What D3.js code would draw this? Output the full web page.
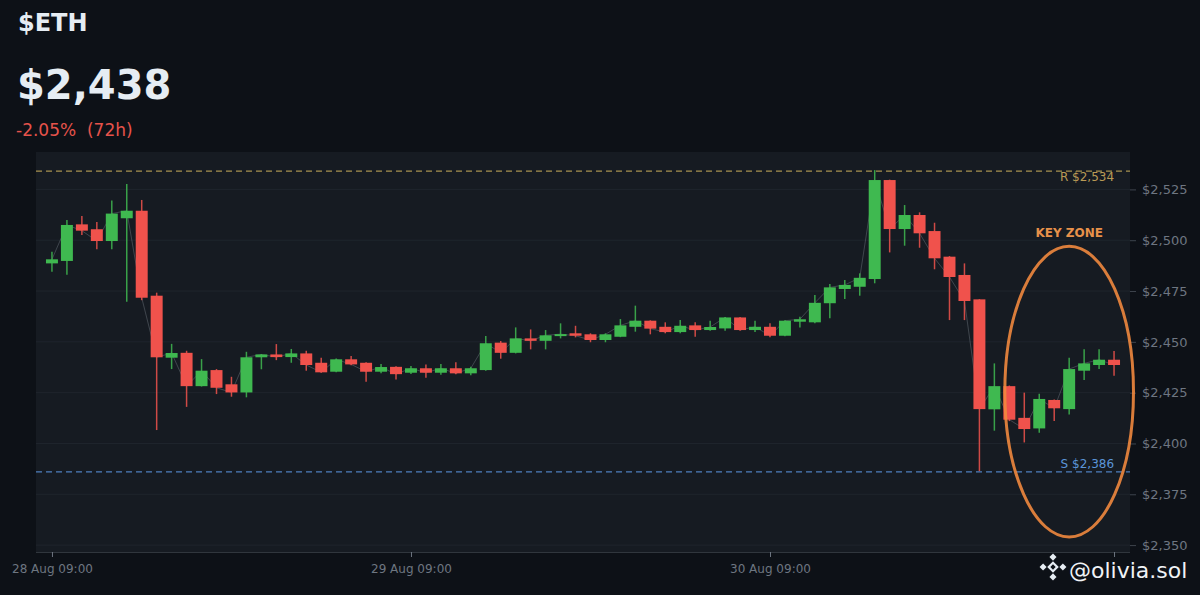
<!DOCTYPE html>
<html lang="en">
<head>
<meta charset="UTF-8">
<title>$ETH 72h</title>
<style>
    body {
        margin: 0;
        background: #0d1117;
        overflow: hidden;
    }
    svg text {
        font-family: "DejaVu Sans", sans-serif;
    }
</style>
</head>
<body>
<svg id="chart" width="1200" height="595"></svg>

<script src="https://d3js.org/d3.v7.min.js"></script>
<script>
    // Hourly candles, 28 Aug 09:00 -> 31 Aug 08:00
    const opens = [
        2488.6, 2489.8, 2507.8, 2505.4, 2499.6, 2510.8, 2514.5, 2472.7, 2442.2, 2444.6, 2428.2, 2436.1,
        2429.1, 2425.1, 2442.4, 2443.8, 2442.5, 2444.3, 2439.7, 2435.3, 2441.4, 2439.7, 2435.3, 2437.7,
        2434.8, 2437.0, 2434.8, 2437.0, 2434.5, 2436.1, 2449.6, 2444.6, 2451.7, 2450.5, 2452.9, 2454.2,
        2453.7, 2450.9, 2452.5, 2457.4, 2460.4, 2457.4, 2454.8, 2458.1, 2455.8, 2456.6, 2462.0, 2455.8,
        2457.4, 2453.0, 2459.9, 2459.6, 2469.0, 2476.0, 2477.1, 2480.9, 2529.6, 2505.5, 2512.4, 2504.5,
        2491.9, 2482.9, 2470.9, 2416.8, 2428.2, 2412.6, 2407.4, 2421.4, 2416.9, 2435.8, 2438.6, 2441.2
    ];
    const highs = [
        2494.3, 2510.0, 2511.9, 2509.0, 2519.5, 2527.7, 2519.8, 2474.2, 2449.0, 2445.6, 2441.5, 2436.6,
        2432.8, 2445.1, 2444.0, 2448.9, 2446.5, 2445.6, 2442.2, 2441.8, 2443.0, 2440.0, 2439.1, 2438.0,
        2438.1, 2438.9, 2439.1, 2440.0, 2437.7, 2452.9, 2450.4, 2457.1, 2456.1, 2455.8, 2459.1, 2457.9,
        2454.2, 2454.2, 2461.2, 2467.8, 2460.6, 2459.6, 2460.7, 2459.6, 2460.4, 2462.2, 2462.2, 2460.4,
        2459.1, 2460.6, 2462.4, 2473.0, 2478.4, 2480.4, 2483.7, 2534.5, 2529.8, 2517.3, 2513.7, 2508.6,
        2492.2, 2488.6, 2471.0, 2439.4, 2428.5, 2425.0, 2424.5, 2421.6, 2442.2, 2446.3, 2446.3, 2445.5
    ];
    const lows = [
        2484.5, 2483.0, 2502.6, 2495.5, 2495.5, 2469.7, 2470.5, 2406.6, 2436.6, 2418.0, 2428.0, 2424.3,
        2423.0, 2422.7, 2436.5, 2441.0, 2439.7, 2435.8, 2434.8, 2435.0, 2438.5, 2430.4, 2434.5, 2431.5,
        2434.2, 2432.3, 2433.8, 2434.1, 2433.5, 2435.8, 2441.7, 2444.3, 2446.3, 2446.3, 2451.7, 2452.2,
        2449.8, 2449.8, 2452.3, 2455.0, 2453.7, 2454.2, 2454.2, 2452.5, 2455.5, 2455.5, 2455.5, 2454.8,
        2452.2, 2452.8, 2457.0, 2459.1, 2461.6, 2471.1, 2472.7, 2478.8, 2494.0, 2497.3, 2496.3, 2485.7,
        2460.7, 2460.7, 2386.4, 2406.3, 2411.0, 2400.5, 2405.3, 2411.0, 2414.3, 2431.2, 2436.6, 2433.3
    ];
    const closes = [
        2490.6, 2507.5, 2504.7, 2499.6, 2513.1, 2514.5, 2471.7, 2442.4, 2444.5, 2428.2, 2435.8, 2427.4,
        2425.1, 2442.4, 2443.8, 2442.5, 2444.3, 2438.6, 2435.0, 2441.4, 2438.9, 2435.3, 2437.6, 2434.1,
        2437.0, 2434.8, 2437.0, 2434.5, 2437.0, 2449.3, 2444.6, 2451.7, 2450.5, 2453.2, 2453.8, 2453.0,
        2450.9, 2453.7, 2458.1, 2460.4, 2456.5, 2454.8, 2457.9, 2455.8, 2457.3, 2462.0, 2455.8, 2457.4,
        2453.0, 2460.4, 2461.1, 2469.2, 2476.8, 2478.0, 2481.5, 2529.6, 2505.5, 2512.4, 2503.4, 2491.1,
        2481.9, 2470.1, 2416.9, 2428.2, 2411.7, 2407.1, 2421.9, 2417.3, 2436.6, 2439.4, 2441.2, 2438.6
    ];

    const xTickIndex = [0, 24, 48, 71];
    const xTickLabels = ["28 Aug 09:00", "29 Aug 09:00", "30 Aug 09:00", ""];
    const yTicks = [2350, 2375, 2400, 2425, 2450, 2475, 2500, 2525];
    const resistance = 2534;
    const support = 2386;
    const keyZoneIdx = [63.7, 72.3];
    const keyZonePrice = [2354, 2497];

    const svg = d3.select("#chart");
    const plot = { left: 36, right: 1130, top: 152, bottom: 552 };

    const start = new Date(2025, 7, 28, 9);
    const times = opens.map((d, i) => d3.timeHour.offset(start, i));

    const x = d3.scaleTime()
        .domain([d3.timeMinute.offset(times[0], -64), d3.timeMinute.offset(times[times.length - 1], 64)])
        .range([plot.left, plot.right]);
    const step = x(times[1]) - x(times[0]);
    const xi = i => x(d3.timeMinute.offset(start, i * 60));

    const y = d3.scaleLinear()
        .domain([2346.6, 2543.4])
        .range([plot.bottom, plot.top]);

    // plot background
    svg.append("rect")
        .attr("x", plot.left).attr("y", plot.top)
        .attr("width", plot.right - plot.left).attr("height", plot.bottom - plot.top)
        .attr("fill", "#161b22");

    // grid
    svg.append("g")
        .selectAll("line")
        .data(yTicks)
        .join("line")
        .attr("x1", plot.left).attr("x2", plot.right)
        .attr("y1", d => y(d)).attr("y2", d => y(d))
        .attr("stroke", "#1f252d")
        .attr("stroke-width", 1);

    // y axis (right)
    const yAxis = svg.append("g")
        .attr("transform", `translate(${plot.right},0)`)
        .call(d3.axisRight(y).tickValues(yTicks).tickSize(6).tickPadding(6)
            .tickFormat(d => "$" + d3.format(",")(d)));
    yAxis.select(".domain").remove();
    yAxis.selectAll("line").attr("stroke", "#3d444d");
    yAxis.selectAll("text").attr("fill", "#6e7681").attr("font-size", 13)
        .attr("font-family", "DejaVu Sans, sans-serif");

    // x axis
    const xAxis = svg.append("g")
        .attr("transform", `translate(0,${plot.bottom})`)
        .call(d3.axisBottom(x).tickValues(xTickIndex.map(i => times[i])).tickSize(5).tickPadding(7)
            .tickFormat((d, i) => xTickLabels[i]));
    xAxis.select(".domain").attr("stroke", "#30363d")
        .attr("d", `M${plot.left},0.5H${plot.right}`);
    xAxis.selectAll("line").attr("stroke", "#6e7681");
    xAxis.selectAll("text").attr("fill", "#6e7681").attr("font-size", 12)
        .attr("font-family", "DejaVu Sans, sans-serif");

    // resistance / support
    const levels = [
        { v: resistance, label: "R $2,534", line: "#a8924f", text: "#b99a55", dy: 10 },
        { v: support, label: "S $2,386", line: "#4f80bf", text: "#5b95d8", dy: -4 }
    ];
    levels.forEach(l => {
        svg.append("line")
            .attr("x1", plot.left).attr("x2", plot.right)
            .attr("y1", y(l.v)).attr("y2", y(l.v))
            .attr("stroke", l.line)
            .attr("stroke-width", 1.3)
            .attr("stroke-dasharray", "6,4");
        svg.append("text")
            .attr("x", xi(71)).attr("y", y(l.v) + l.dy)
            .attr("text-anchor", "end")
            .attr("font-size", 12)
            .attr("fill", l.text)
            .text(l.label);
    });

    // close line
    svg.append("path")
        .datum(closes)
        .attr("d", d3.line().x((d, i) => xi(i)).y(d => y(d)))
        .attr("fill", "none")
        .attr("stroke", "#8b949e")
        .attr("stroke-opacity", 0.35)
        .attr("stroke-width", 1);

    // candles
    const up = "#3fb950", down = "#f0524c";
    const bodyW = step * 0.8;
    const candles = svg.append("g")
        .selectAll("g")
        .data(opens.map((o, i) => ({ i, o, h: highs[i], l: lows[i], c: closes[i] })))
        .join("g");

    candles.append("line")
        .attr("x1", d => xi(d.i)).attr("x2", d => xi(d.i))
        .attr("y1", d => y(d.h)).attr("y2", d => y(d.l))
        .attr("stroke", d => d.c >= d.o ? up : down)
        .attr("stroke-opacity", 0.85)
        .attr("stroke-width", 1.5);

    candles.append("rect")
        .attr("x", d => xi(d.i) - bodyW / 2)
        .attr("y", d => y(Math.max(d.o, d.c)))
        .attr("width", bodyW)
        .attr("height", d => Math.max(2, Math.abs(y(d.o) - y(d.c))))
        .attr("fill", d => d.c >= d.o ? up : down);

    // key zone
    const kx0 = xi(keyZoneIdx[0]), kx1 = xi(keyZoneIdx[1]);
    const ky0 = y(keyZonePrice[1]), ky1 = y(keyZonePrice[0]);
    svg.append("ellipse")
        .attr("cx", (kx0 + kx1) / 2).attr("cy", (ky0 + ky1) / 2)
        .attr("rx", (kx1 - kx0) / 2).attr("ry", (ky1 - ky0) / 2)
        .attr("fill", "none")
        .attr("stroke", "#f0883e")
        .attr("stroke-opacity", 0.9)
        .attr("stroke-width", 3);
    svg.append("text")
        .attr("x", (kx0 + kx1) / 2).attr("y", ky0 - 9)
        .attr("text-anchor", "middle")
        .attr("font-size", 12)
        .attr("font-weight", "bold")
        .attr("fill", "#e8914a")
        .text("KEY ZONE");

    // header
    svg.append("text")
        .attr("x", 18).attr("y", 31)
        .attr("font-size", 24).attr("font-weight", "bold")
        .attr("fill", "#e6edf3")
        .text("$ETH");
    svg.append("text")
        .attr("x", 17).attr("y", 99)
        .attr("font-size", 40).attr("font-weight", "bold")
        .attr("fill", "#e6edf3")
        .text("$" + d3.format(",")(Math.floor(closes[closes.length - 1])));
    svg.append("text")
        .attr("x", 16).attr("y", 136)
        .attr("font-size", 17)
        .attr("fill", "#e5534b")
        .style("white-space", "pre")
        .text("-2.05%  (72h)");

    // watermark
    const logo = svg.append("g").attr("transform", "translate(1053,567) rotate(45)")
        .attr("fill", "none").attr("stroke", "#e6edf3").attr("stroke-width", 2.2);
    logo.append("rect").attr("x", -3).attr("y", -3).attr("width", 6).attr("height", 6);
    [[-7, -7], [7, 7], [-7, 7], [7, -7]].forEach(p => {
        logo.append("rect").attr("x", p[0] - 2.5).attr("y", p[1] - 2.5)
            .attr("width", 5).attr("height", 5).attr("fill", "#e6edf3").attr("stroke", "none");
    });
    svg.append("text")
        .attr("x", 1069).attr("y", 578)
        .attr("font-size", 22)
        .attr("fill", "#f0f3f6")
        .text("@olivia.sol");
</script>
</body>
</html>
